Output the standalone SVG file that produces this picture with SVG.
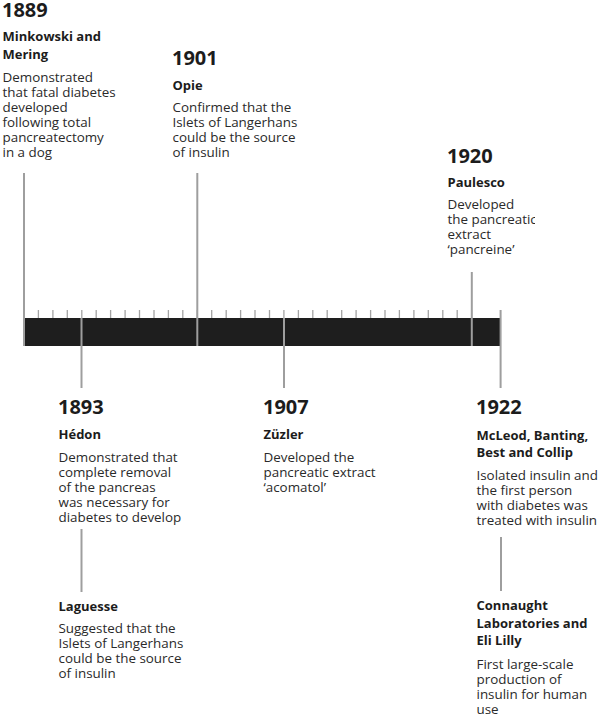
<svg xmlns="http://www.w3.org/2000/svg" width="600" height="716" viewBox="0 0 600 716">
<style>
text{font-family:"Open Sans","Liberation Sans",sans-serif;fill:#1c1c1c}
.yr{font-size:20px;font-weight:700}
.nm{font-size:13px;font-weight:700}
.bd{font-size:13.4px;fill:#2a2a2a}
.ln{stroke:#9e9e9e;stroke-width:2;fill:none}
.tk{stroke:#a4a4a4;stroke-width:1.3;fill:none}
</style>
<defs>
<clipPath id="clip1920"><rect x="440" y="130" width="95" height="140"/></clipPath>
</defs>
<rect width="600" height="716" fill="#fff"/>
<g id="timeline">
<rect x="24" y="318" width="476" height="28" fill="#1e1e1e"/>
<path class="tk" d="M38.4 310V318M52.9 310V318M67.3 310V318M81.8 310V318M96.2 310V318M110.6 310V318M125.1 310V318M139.5 310V318M154 310V318M168.4 310V318M182.8 310V318M197.3 310V318M211.7 310V318M226.2 310V318M240.6 310V318M255 310V318M269.5 310V318M283.9 310V318M298.4 310V318M312.8 310V318M327.2 310V318M341.7 310V318M356.1 310V318M370.6 310V318M385 310V318M399.4 310V318M413.9 310V318M428.3 310V318M442.8 310V318M457.2 310V318M471.6 310V318"/>
</g>
<g id="connectors">
<path class="ln" d="M24 173V346"/>
<path class="ln" d="M197.3 173V346"/>
<path class="ln" d="M471.8 272V346"/>
<path class="ln" d="M81.5 318V388"/>
<path class="ln" d="M284 318V388"/>
<path class="ln" d="M500.6 310V388"/>
<path class="ln" d="M81.5 529V592"/>
<path class="ln" d="M501 537V591"/>
</g>
<g id="n1889">
<text class="yr" x="2" y="16.5">1889</text>
<text class="nm" x="2.5" y="40.5">Minkowski and</text>
<text class="nm" x="2.5" y="58.5">Mering</text>
<text class="bd" x="2.5" y="81.7">Demonstrated</text>
<text class="bd" x="2.5" y="96.7">that fatal diabetes</text>
<text class="bd" x="2.5" y="111.7">developed</text>
<text class="bd" x="2.5" y="126.7">following total</text>
<text class="bd" x="2.5" y="141.7">pancreatectomy</text>
<text class="bd" x="2.5" y="156.7">in a dog</text>
</g>
<g id="n1901">
<text class="yr" x="172" y="65">1901</text>
<text class="nm" x="172.5" y="89.5">Opie</text>
<text class="bd" x="172.5" y="111.7">Confirmed that the</text>
<text class="bd" x="172.5" y="126.7">Islets of Langerhans</text>
<text class="bd" x="172.5" y="141.7">could be the source</text>
<text class="bd" x="172.5" y="156.7">of insulin</text>
</g>
<g id="n1920" clip-path="url(#clip1920)">
<text class="yr" x="447" y="162.7">1920</text>
<text class="nm" x="447.5" y="187">Paulesco</text>
<text class="bd" x="447.5" y="209.2">Developed</text>
<text class="bd" x="447.5" y="224.2">the pancreatic</text>
<text class="bd" x="447.5" y="239.2">extract</text>
<text class="bd" x="447.5" y="254.2">‘pancreine’</text>
</g>
<g id="n1893">
<text class="yr" x="58" y="414">1893</text>
<text class="nm" x="58.5" y="439">Hédon</text>
<text class="bd" x="58.5" y="461.7">Demonstrated that</text>
<text class="bd" x="58.5" y="476.7">complete removal</text>
<text class="bd" x="58.5" y="491.7">of the pancreas</text>
<text class="bd" x="58.5" y="506.7">was necessary for</text>
<text class="bd" x="58.5" y="521.7">diabetes to develop</text>
</g>
<g id="n1907">
<text class="yr" x="263" y="414">1907</text>
<text class="nm" x="263.5" y="439">Züzler</text>
<text class="bd" x="263.5" y="461.7">Developed the</text>
<text class="bd" x="263.5" y="476.7">pancreatic extract</text>
<text class="bd" x="263.5" y="491.7">‘acomatol’</text>
</g>
<g id="n1922">
<text class="yr" x="476" y="414">1922</text>
<text class="nm" x="476.5" y="439.5">McLeod, Banting,</text>
<text class="nm" x="476.5" y="456.7">Best and Collip</text>
<text class="bd" x="476.5" y="480">Isolated insulin and</text>
<text class="bd" x="476.5" y="495">the first person</text>
<text class="bd" x="476.5" y="510">with diabetes was</text>
<text class="bd" x="476.5" y="525">treated with insulin</text>
</g>
<g id="laguesse">
<text class="nm" x="58.5" y="611">Laguesse</text>
<text class="bd" x="58.5" y="632.7">Suggested that the</text>
<text class="bd" x="58.5" y="647.7">Islets of Langerhans</text>
<text class="bd" x="58.5" y="662.7">could be the source</text>
<text class="bd" x="58.5" y="677.7">of insulin</text>
</g>
<g id="connaught">
<text class="nm" x="476.5" y="610.3">Connaught</text>
<text class="nm" x="476.5" y="628">Laboratories and</text>
<text class="nm" x="476.5" y="645.3">Eli Lilly</text>
<text class="bd" x="476.5" y="668.7">First large-scale</text>
<text class="bd" x="476.5" y="683.7">production of</text>
<text class="bd" x="476.5" y="698.7">insulin for human</text>
<text class="bd" x="476.5" y="713.7">use</text>
</g>
</svg>
